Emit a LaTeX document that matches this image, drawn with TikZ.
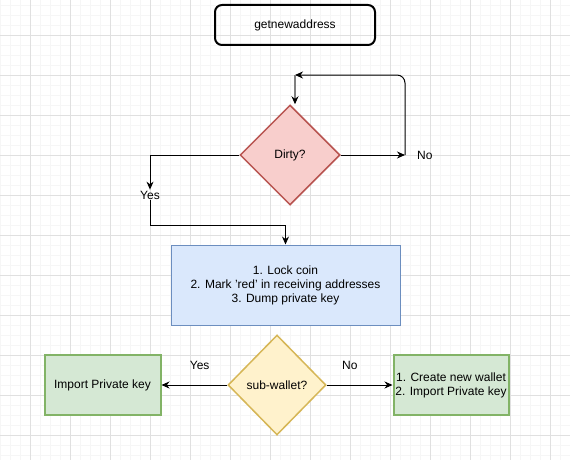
\documentclass[tikz,border=0pt]{standalone}
\usepackage{fontspec}
\setmainfont{Liberation Sans}
\usepackage{xcolor}
\usetikzlibrary{shapes,arrows.meta,positioning}

\definecolor{redfill}{HTML}{F8CECC}
\definecolor{redline}{HTML}{B85450}
\definecolor{bluefill}{HTML}{DAE8FC}
\definecolor{blueline}{HTML}{6C8EBF}
\definecolor{yellowfill}{HTML}{FFF2CC}
\definecolor{yellowline}{HTML}{D6B656}
\definecolor{greenfill}{HTML}{D5E8D4}
\definecolor{greenline}{HTML}{82B366}

\begin{document}
\begin{tikzpicture}[
    x=1pt, y=-1pt,
    font=\fontsize{12pt}{14pt}\selectfont,
    box/.style={rectangle, draw, inner sep=0pt, align=center},
    decision/.style={diamond, draw, line width=1.5pt, inner sep=0pt, align=center},
    arrow/.style={-{Stealth[length=8pt,width=7pt]}, line width=1pt},
    label/.style={inner sep=1pt}
]
    % background and grid
    \useasboundingbox[fill=white] (0,0) rectangle (570,460);
    \foreach \x in {0,10,...,570} \draw[gray!7, line width=0.8pt] (\x,0) -- (\x,460);
    \foreach \y in {5,15,...,455} \draw[gray!7, line width=0.8pt] (0,\y) -- (570,\y);
    \foreach \x in {30,70,...,550} \draw[gray!24, line width=0.8pt] (\x,0) -- (\x,460);
    \foreach \y in {35,75,...,435} \draw[gray!24, line width=0.8pt] (0,\y) -- (570,\y);

    \node[box, rounded corners=7pt, line width=2pt, minimum width=160pt, minimum height=40pt] (start) at (295,25) {getnewaddress};

    \node[decision, fill=redfill, draw=redline, minimum width=100pt, minimum height=100pt] (dirty) at (290,155) {Dirty?};
    \coordinate (top) at (295,75);
    \coordinate (noend) at (405,155);
    \node[label, anchor=west] (no1) at (416,155) {No};
    \node[label] (yes1) at (150,195) {Yes};

    \node[box, fill=bluefill, draw=blueline, line width=1pt, minimum width=229pt, minimum height=80pt] (lock) at (285.5,285) {1. Lock coin\\2. Mark 'red' in receiving addresses\\3. Dump private key};

    \node[decision, fill=yellowfill, draw=yellowline, minimum width=98pt, minimum height=100pt] (sub) at (277,385) {sub-wallet?};
    \node[box, fill=greenfill, draw=greenline, line width=2pt, minimum width=116pt, minimum height=60pt] (import) at (102.5,385) {Import Private key};
    \node[box, fill=greenfill, draw=greenline, line width=2pt, minimum width=115pt, minimum height=60pt] (create) at (451,385) {1. Create new wallet\\2. Import Private key};

    \draw[arrow] (dirty.east) -- (noend);
    \draw[arrow, rounded corners=8pt] (noend) |- (top);
    \draw[line width=1.5pt, gray, -{Stealth[length=8pt,width=7pt,color=black]}] (top) -- (top |- dirty.north);
    \draw[arrow] (dirty.west) -| (yes1.north);
    \draw[arrow] (yes1.south) |- (150,225) -| (lock.north);

    \draw[arrow] (sub.west) -- node[above=12pt, pos=0.42] {Yes} (import.east);
    \draw[arrow] (sub.east) -- node[above=12pt, pos=0.35] {No} (create.west);
\end{tikzpicture}
\end{document}
